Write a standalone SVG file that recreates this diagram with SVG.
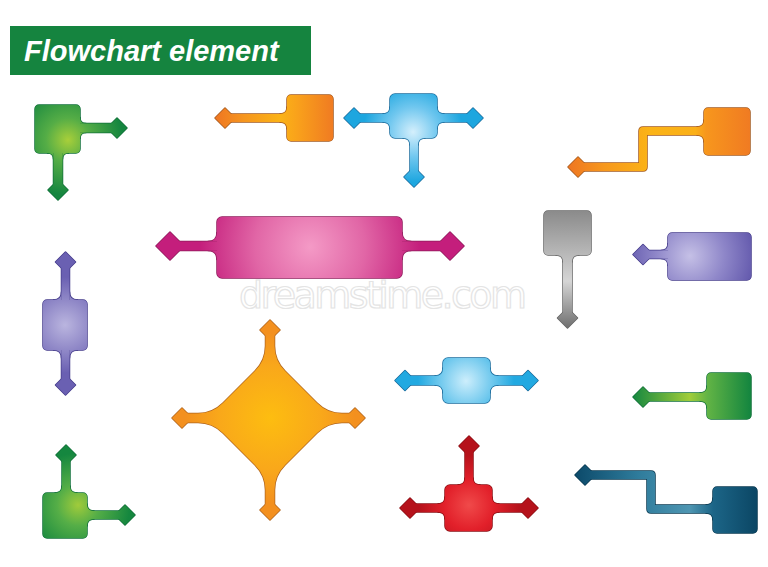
<svg xmlns="http://www.w3.org/2000/svg" xmlns:xlink="http://www.w3.org/1999/xlink" width="768" height="567" viewBox="0 0 768 567">
<style>
.o{stroke-width:1.5;stroke-linejoin:round}
.title{font-family:"Liberation Sans",Arial,sans-serif;font-weight:bold;font-style:italic;font-size:29px;fill:#fff}
.wm{font-family:"DejaVu Sans","Liberation Sans",sans-serif;font-size:38px;fill:none;stroke:#e4e4e4;stroke-width:1.2}
</style>
<defs>
<radialGradient id="gA" gradientUnits="userSpaceOnUse" cx="68" cy="140" r="55"><stop offset="0" stop-color="#a8cf3a"/><stop offset="0.4" stop-color="#55ad46"/><stop offset="1" stop-color="#14853f"/></radialGradient>
<linearGradient id="gB" gradientUnits="userSpaceOnUse" x1="215" y1="0" x2="333" y2="0"><stop offset="0" stop-color="#ee7623"/><stop offset="0.25" stop-color="#f6961e"/><stop offset="0.55" stop-color="#fbb316"/><stop offset="0.7" stop-color="#f9a11b"/><stop offset="1" stop-color="#f07b22"/></linearGradient>
<radialGradient id="gC" gradientUnits="userSpaceOnUse" cx="413" cy="132" r="50"><stop offset="0" stop-color="#d4effc"/><stop offset="0.5" stop-color="#70c7ef"/><stop offset="1" stop-color="#1da6df"/></radialGradient>
<linearGradient id="gD" gradientUnits="userSpaceOnUse" x1="568" y1="0" x2="750" y2="0"><stop offset="0" stop-color="#ee7623"/><stop offset="0.2" stop-color="#f7981d"/><stop offset="0.45" stop-color="#fbb316"/><stop offset="0.7" stop-color="#fbb018"/><stop offset="0.76" stop-color="#f7961d"/><stop offset="1" stop-color="#f07b22"/></linearGradient>
<radialGradient id="gE" gradientUnits="userSpaceOnUse" cx="310" cy="247" r="110"><stop offset="0" stop-color="#f49ac6"/><stop offset="0.5" stop-color="#e166a6"/><stop offset="1" stop-color="#c41e7c"/></radialGradient>
<linearGradient id="gF" gradientUnits="userSpaceOnUse" x1="0" y1="211" x2="0" y2="328"><stop offset="0" stop-color="#8b8b8b"/><stop offset="0.3" stop-color="#b0b0b0"/><stop offset="0.6" stop-color="#d5d5d5"/><stop offset="1" stop-color="#6f6f6f"/></linearGradient>
<radialGradient id="gG" gradientUnits="userSpaceOnUse" cx="690" cy="256" r="68"><stop offset="0" stop-color="#c5c0e6"/><stop offset="0.5" stop-color="#8f87c9"/><stop offset="1" stop-color="#5f55aa"/></radialGradient>
<radialGradient id="gH" gradientUnits="userSpaceOnUse" cx="65" cy="325" r="48"><stop offset="0" stop-color="#bab5df"/><stop offset="1" stop-color="#6a60b2"/></radialGradient>
<radialGradient id="gI" gradientUnits="userSpaceOnUse" cx="270" cy="418" r="85"><stop offset="0" stop-color="#fdbd10"/><stop offset="0.6" stop-color="#f9a81a"/><stop offset="1" stop-color="#f3901f"/></radialGradient>
<radialGradient id="gJ" gradientUnits="userSpaceOnUse" cx="466" cy="381" r="48"><stop offset="0" stop-color="#cdeefc"/><stop offset="1" stop-color="#22a9e1"/></radialGradient>
<linearGradient id="gK" gradientUnits="userSpaceOnUse" x1="633" y1="0" x2="751" y2="0"><stop offset="0" stop-color="#168840"/><stop offset="0.48" stop-color="#a0cd3a"/><stop offset="0.63" stop-color="#62b445"/><stop offset="1" stop-color="#13853f"/></linearGradient>
<radialGradient id="gL" gradientUnits="userSpaceOnUse" cx="78" cy="505" r="52"><stop offset="0" stop-color="#a0cb3b"/><stop offset="0.4" stop-color="#55ae47"/><stop offset="1" stop-color="#15873f"/></radialGradient>
<radialGradient id="gM" gradientUnits="userSpaceOnUse" cx="469" cy="505" r="50"><stop offset="0" stop-color="#f04a4a"/><stop offset="0.5" stop-color="#e2202a"/><stop offset="1" stop-color="#b5121b"/></radialGradient>
<linearGradient id="gN" gradientUnits="userSpaceOnUse" x1="575" y1="0" x2="757" y2="0"><stop offset="0" stop-color="#0c4a6a"/><stop offset="0.35" stop-color="#2f7c9c"/><stop offset="0.63" stop-color="#4f96b2"/><stop offset="0.76" stop-color="#1c6587"/><stop offset="1" stop-color="#0b4664"/></linearGradient>

<g id="pA">
<rect x="35" y="105" width="45" height="48" rx="4"/>
<rect x="78" y="123.5" width="39" height="9"/>
<rect x="53.5" y="151" width="9" height="39"/>
<polygon points="107,128 117,118 127,128 117,138"/>
<polygon points="48,190 58,180 68,190 58,200"/>
<path d="M80 123.5L80 117.5Q80 123.5 86 123.5ZM80 132.5L80 138.5Q80 132.5 86 132.5ZM53.5 153L47.5 153Q53.5 153 53.5 159ZM62.5 153L68.5 153Q62.5 153 62.5 159Z"/>
</g>
<g id="pB">
<rect x="287" y="95" width="46" height="46" rx="4"/>
<rect x="225" y="114" width="64" height="8"/>
<polygon points="215,118 225,108 235,118 225,128"/>
<path d="M287 114L287 107Q287 114 280 114ZM287 122L287 129Q287 122 280 122Z"/>
</g>
<g id="pC">
<rect x="390" y="94" width="47" height="44" rx="5"/>
<rect x="354" y="114" width="38" height="8"/>
<rect x="435" y="114" width="38" height="8"/>
<rect x="410" y="136" width="8" height="41"/>
<polygon points="344,118 354,108 364,118 354,128"/>
<polygon points="463,118 473,108 483,118 473,128"/>
<polygon points="404,177 414,167 424,177 414,187"/>
<path d="M390 114L390 107Q390 114 383 114ZM390 122L390 129Q390 122 383 122ZM437 114L437 107Q437 114 444 114ZM437 122L437 129Q437 122 444 122ZM410 138L403 138Q410 138 410 145ZM418 138L425 138Q418 138 418 145Z"/>
</g>
<g id="pD">
<rect x="704" y="108" width="46" height="47" rx="4"/>
<path d="M706 127L643 127Q639 127 639 131L639 163L578 163L578 171L643 171Q647 171 647 167L647 135L706 135Z"/>
<polygon points="568,167 578,157 588,167 578,177"/>
<path d="M704 127L704 120Q704 127 697 127ZM704 135L704 142Q704 135 697 135Z"/>
</g>
<g id="pE">
<rect x="217" y="217" width="185" height="61" rx="5"/>
<rect x="170" y="241.5" width="49" height="9"/>
<rect x="400" y="241.5" width="50" height="9"/>
<polygon points="156,246 170,232 184,246 170,260"/>
<polygon points="436,246 450,232 464,246 450,260"/>
<path d="M217 241.5L217 232.5Q217 241.5 208 241.5ZM217 250.5L217 259.5Q217 250.5 208 250.5ZM402 241.5L402 232.5Q402 241.5 411 241.5ZM402 250.5L402 259.5Q402 250.5 411 250.5Z"/>
</g>
<g id="pF">
<rect x="544" y="211" width="47" height="44" rx="4"/>
<rect x="563" y="253" width="9" height="65"/>
<polygon points="557.5,318 567.5,308 577.5,318 567.5,328"/>
<path d="M563 255L556 255Q563 255 563 262ZM572 255L579 255Q572 255 572 262Z"/>
</g>
<g id="pG">
<rect x="668" y="233" width="83" height="47" rx="4"/>
<rect x="643" y="250.5" width="27" height="8"/>
<polygon points="633,254.5 643,244.5 653,254.5 643,264.5"/>
<path d="M668 250.5L668 243.5Q668 250.5 661 250.5ZM668 258.5L668 265.5Q668 258.5 661 258.5Z"/>
</g>
<g id="pH">
<rect x="43" y="300" width="44" height="50" rx="4"/>
<rect x="61.5" y="262" width="8" height="40"/>
<rect x="61.5" y="348" width="8" height="37"/>
<polygon points="55.5,262 65.5,252 75.5,262 65.5,272"/>
<polygon points="55.5,385 65.5,375 75.5,385 65.5,395"/>
<path d="M61.5 300L53.5 300Q61.5 300 61.5 292ZM69.5 300L77.5 300Q69.5 300 69.5 292ZM61.5 350L53.5 350Q61.5 350 61.5 358ZM69.5 350L77.5 350Q69.5 350 69.5 358Z"/>
</g>
<g id="pI">
<path d="M265.5 330L265.5 346Q265.5 360.5 255 371L223 403Q212.5 413.5 198 413.5L182 413.5L182 422.5L198 422.5Q212.5 422.5 223 433L255 465Q265.5 475.5 265.5 490L265.5 510L274.5 510L274.5 490Q274.5 475.5 285 465L317 433Q327.5 422.5 342 422.5L355 422.5L355 413.5L342 413.5Q327.5 413.5 317 403L285 371Q274.5 360.5 274.5 346L274.5 330Z"/>
<polygon points="260,330 270,320 280,330 270,340"/>
<polygon points="260,510 270,500 280,510 270,520"/>
<polygon points="172,418 182,408 192,418 182,428"/>
<polygon points="345,418 355,408 365,418 355,428"/>
</g>
<g id="pJ">
<rect x="443" y="358" width="47" height="45" rx="5"/>
<rect x="405" y="376" width="40" height="9"/>
<rect x="488" y="376" width="40" height="9"/>
<polygon points="395,380.5 405,370.5 415,380.5 405,390.5"/>
<polygon points="518,380.5 528,370.5 538,380.5 528,390.5"/>
<path d="M443 376L443 368Q443 376 435 376ZM443 385L443 393Q443 385 435 385ZM490 376L490 368Q490 376 498 376ZM490 385L490 393Q490 385 498 385Z"/>
</g>
<g id="pK">
<rect x="707" y="373" width="44" height="46" rx="4"/>
<rect x="643" y="393" width="66" height="8"/>
<polygon points="633,397 643,387 653,397 643,407"/>
<path d="M707 393L707 386Q707 393 700 393ZM707 401L707 408Q707 401 700 401Z"/>
</g>
<g id="pL">
<rect x="43" y="493" width="44" height="45" rx="4"/>
<rect x="62" y="455" width="8" height="40"/>
<rect x="85" y="511" width="40" height="8"/>
<polygon points="56,455 66,445 76,455 66,465"/>
<polygon points="115,515 125,505 135,515 125,525"/>
<path d="M62 493L55 493Q62 493 62 486ZM70 493L77 493Q70 493 70 486ZM87 511L87 504Q87 511 94 511ZM87 519L87 526Q87 519 94 519Z"/>
</g>
<g id="pM">
<rect x="445" y="485" width="47" height="46" rx="5"/>
<rect x="465" y="446" width="8" height="41"/>
<rect x="410" y="504" width="37" height="8"/>
<rect x="490" y="504" width="38" height="8"/>
<polygon points="459,446 469,436 479,446 469,456"/>
<polygon points="400,508 410,498 420,508 410,518"/>
<polygon points="518,508 528,498 538,508 528,518"/>
<path d="M465 485L458 485Q465 485 465 478ZM473 485L480 485Q473 485 473 478ZM445 504L445 497Q445 504 438 504ZM445 512L445 519Q445 512 438 512ZM492 504L492 497Q492 504 499 504ZM492 512L492 519Q492 512 499 512Z"/>
</g>
<g id="pN">
<rect x="713" y="487" width="44" height="46" rx="4"/>
<path d="M715 505L655 505L655 475Q655 471 651 471L585 471L585 479L647 479L647 509Q647 513 651 513L715 513Z"/>
<polygon points="575,475 585,465 595,475 585,485"/>
<path d="M713 505L713 498Q713 505 706 505ZM713 513L713 520Q713 513 706 513Z"/>
</g>
</defs>

<rect width="768" height="567" fill="#ffffff"/>

<g id="title">
<rect x="10" y="26" width="301" height="49" fill="#15843f"/>
<text class="title" x="24" y="61">Flowchart element</text>
</g>

<g id="connectors"></g>

<g id="node-green-topleft"><use href="#pA" class="o" fill="#11703a" stroke="#11703a"/><use href="#pA" fill="url(#gA)"/></g>
<g id="node-orange-left"><use href="#pB" class="o" fill="#a3591f" stroke="#a3591f"/><use href="#pB" fill="url(#gB)"/></g>
<g id="node-blue-three"><use href="#pC" class="o" fill="#1a6c9d" stroke="#1a6c9d"/><use href="#pC" fill="url(#gC)"/></g>
<g id="node-orange-z"><use href="#pD" class="o" fill="#a3591f" stroke="#a3591f"/><use href="#pD" fill="url(#gD)"/></g>
<g id="node-magenta"><use href="#pE" class="o" fill="#8e1a5a" stroke="#8e1a5a"/><use href="#pE" fill="url(#gE)"/></g>
<g id="node-gray"><use href="#pF" class="o" fill="#666666" stroke="#666666"/><use href="#pF" fill="url(#gF)"/></g>
<g id="node-purple-left"><use href="#pG" class="o" fill="#463d8c" stroke="#463d8c"/><use href="#pG" fill="url(#gG)"/></g>
<g id="node-purple-vertical"><use href="#pH" class="o" fill="#463d8c" stroke="#463d8c"/><use href="#pH" fill="url(#gH)"/></g>
<g id="node-orange-diamond"><use href="#pI" class="o" fill="#b0651e" stroke="#b0651e"/><use href="#pI" fill="url(#gI)"/></g>
<g id="node-blue-horizontal"><use href="#pJ" class="o" fill="#1a6c9d" stroke="#1a6c9d"/><use href="#pJ" fill="url(#gJ)"/></g>
<g id="node-green-left"><use href="#pK" class="o" fill="#11703a" stroke="#11703a"/><use href="#pK" fill="url(#gK)"/></g>
<g id="node-green-bottomleft"><use href="#pL" class="o" fill="#11703a" stroke="#11703a"/><use href="#pL" fill="url(#gL)"/></g>
<g id="node-red"><use href="#pM" class="o" fill="#8b0f14" stroke="#8b0f14"/><use href="#pM" fill="url(#gM)"/></g>
<g id="node-teal-z"><use href="#pN" class="o" fill="#083850" stroke="#083850"/><use href="#pN" fill="url(#gN)"/></g>

<text class="wm" x="239" y="308" textLength="288">dreamstime.com</text>
</svg>
